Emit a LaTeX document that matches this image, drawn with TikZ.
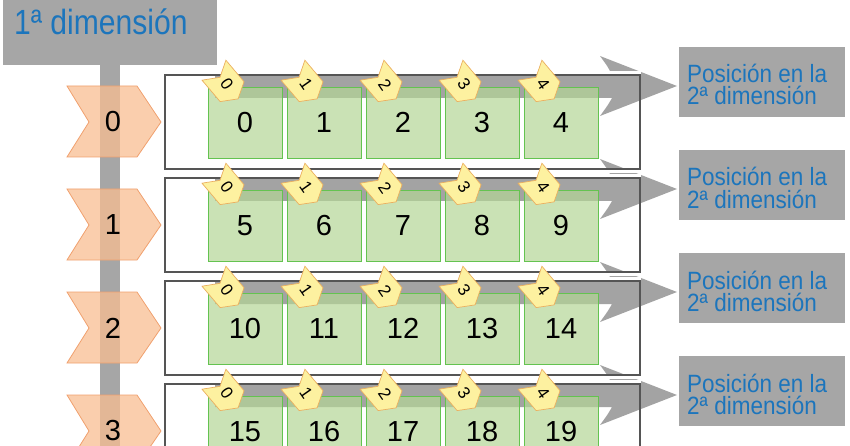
\documentclass[tikz,border=0pt]{standalone}
\usepackage{fontspec}
\setmainfont{Liberation Sans}
\newfontfamily\condA[FakeStretch=0.86]{Liberation Sans}
\newfontfamily\condB[FakeStretch=0.90]{Liberation Sans}
\definecolor{boxgray}{RGB}{166,166,166}
\definecolor{arrowgray}{RGB}{163,163,163}
\definecolor{titleblue}{RGB}{28,117,188}
\definecolor{peach}{RGB}{248,190,145}
\definecolor{peachline}{RGB}{240,160,110}
\definecolor{cellfill}{RGB}{180,214,150}
\definecolor{cellline}{RGB}{100,195,80}
\definecolor{starfill}{RGB}{253,241,160}
\definecolor{starline}{RGB}{235,175,95}
\definecolor{rowline}{RGB}{85,85,85}
\begin{document}
\begin{tikzpicture}[x=1pt,y=-1pt,
  cellbox/.style={draw=cellline, line width=0.9pt, fill=cellfill, fill opacity=0.7, text opacity=1,
    minimum width=74pt, minimum height=71pt, inner sep=0pt, font=\fontsize{29}{29}\selectfont},
  chevlabel/.style={font=\fontsize{29}{29}\selectfont, inner sep=0pt},
  stardigit/.style={font=\fontsize{17}{17}\selectfont, inner sep=0pt, rotate=-55},
  sidetext/.style={font=\condB\fontsize{25}{22}\selectfont, text=titleblue, anchor=base west, inner sep=0pt},
  sidebox/.style={fill=boxgray, minimum width=166pt, minimum height=70pt, inner sep=0pt},
  chevshape/.style={fill=peach, fill opacity=0.75, draw=peachline, line width=0.8pt},
  starshape/.style={fill=starfill, draw=starline, line width=0.7pt},
]
\useasboundingbox (0,0) rectangle (850,446);
\clip (0,0) rectangle (850,446);
% title
\fill[boxgray] (3,-2) rectangle (217,65);
\node[anchor=base west, inner sep=0pt, font=\condA\fontsize{35}{35}\selectfont, text=titleblue] (title) at (14,35) {1ª dimensión};
% vertical bar
\fill[boxgray] (100,65) rectangle (120,446);
% chevrons
\foreach \i in {0,...,3}{
  \pgfmathsetmacro\ry{103*\i}
  \draw[chevshape] (67,{86+\ry}) -- (137,{86+\ry}) -- (161,{122+\ry}) -- (137,{157+\ry}) -- (67,{157+\ry}) -- (89,{122+\ry}) -- cycle;
  \node[chevlabel] (d\i) at (113,{122+\ry}) {\i};
}
% arrows
\foreach \i in {0,...,3}{
  \pgfmathsetmacro\ry{103*\i}
  \fill[arrowgray] (215,{75+\ry}) -- (612,{75+\ry}) .. controls (608,{67+\ry}) .. (600,{56+\ry})
     -- (677,{86+\ry}) -- (600,{116+\ry}) .. controls (608,{105+\ry}) .. (612,{98+\ry}) -- (215,{98+\ry}) -- cycle;
}
% row boxes: white gaps between rows, then borders
\foreach \i in {0,...,3}{
  \pgfmathsetmacro\ry{103*\i}
  \draw[white, line width=4pt] (164,{73+\ry}) -- (641,{73+\ry});
  \draw[white, line width=4pt] (164,{171+\ry}) -- (641,{171+\ry});
}
\foreach \i in {0,...,3}{
  \pgfmathsetmacro\ry{103*\i}
  \draw[rowline, line width=1.1pt] (165,{75+\ry}) rectangle (640,{169+\ry});
}
% cells and stars
\foreach \i in {0,...,3}{
  \pgfmathsetmacro\ry{103*\i}
  \foreach \j in {0,...,4}{
    \pgfmathtruncatemacro\n{5*\i+\j}
    \node[cellbox] (c\i\j) at ({245+79*\j},{122.5+\ry}) {\n};
  }
  \foreach \j in {0,...,4}{
    \draw[starshape, shift={({226+79*\j},{84.5+\ry})}]
      (-0.1,-24.3) -- (18,-2.8) -- (12.1,14.4) -- (-5.9,17.1) -- (-24,-4.3) -- (-6,-7.2) -- cycle;
    \node[stardigit] (s\i\j) at ({227+79*\j},{84.5+\ry}) {\j};
  }
}
% side boxes
\foreach \i in {0,...,3}{
  \pgfmathsetmacro\ry{103*\i}
  \node[sidebox] (p\i) at (762,{82+\ry}) {};
  \node[sidetext] (pa\i) at (687,{83+\ry}) {Posición en la};
  \node[sidetext] (pb\i) at (687,{105+\ry}) {2ª dimensión};
}
\end{tikzpicture}
\end{document}
